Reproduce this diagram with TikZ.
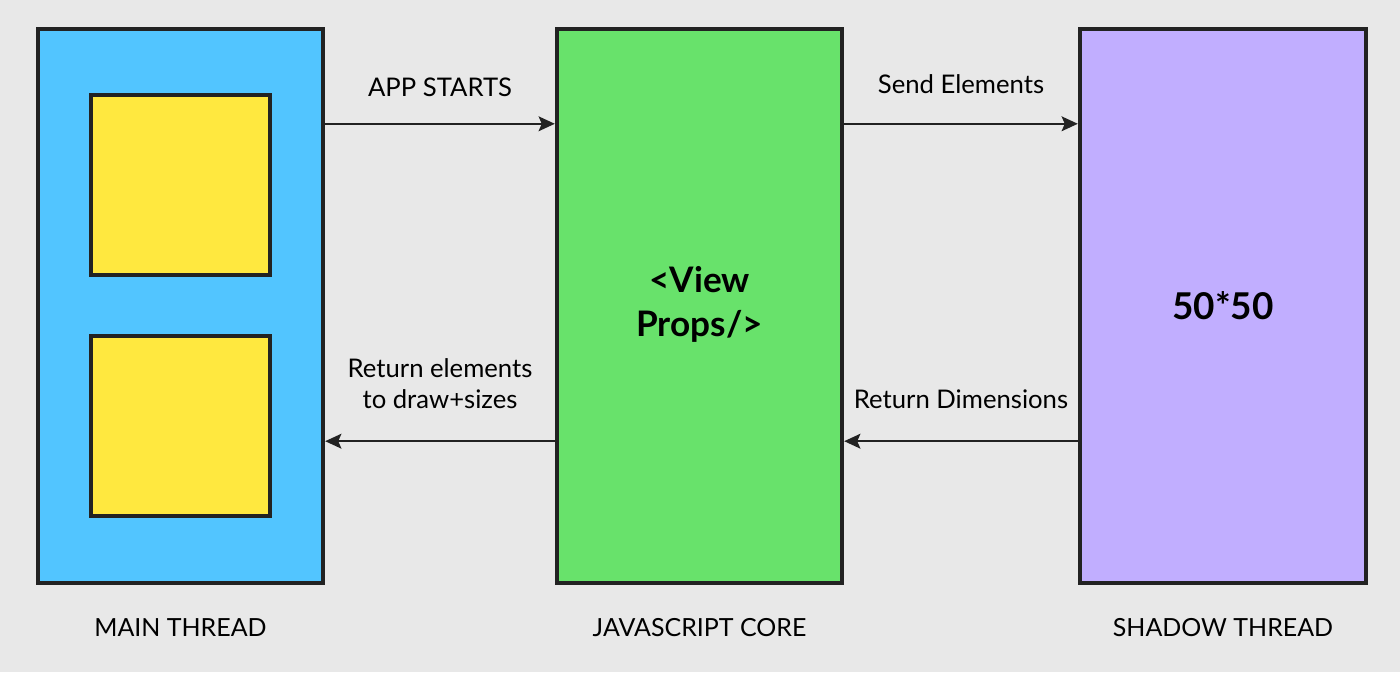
\documentclass[tikz,border=0pt]{standalone}
\usepackage{fontspec}
\setmainfont{Lato}
\usetikzlibrary{positioning, arrows.meta}
\definecolor{bgcol}{HTML}{E8E8E8}
\definecolor{maincol}{HTML}{52C5FF}
\definecolor{jscol}{HTML}{68E26B}
\definecolor{shadowcol}{HTML}{C1AEFF}
\definecolor{sqcol}{HTML}{FFE83F}
\definecolor{edgecol}{HTML}{222222}
\begin{document}
\begin{tikzpicture}[x=0.01cm, y=-0.01cm, >={Stealth[length=4.6pt, width=4.2pt, inset=0.9pt]},
    threadbox/.style={draw=edgecol, line width=1.2pt, minimum width=2.85cm, minimum height=5.54cm, inner sep=0pt},
    sqbox/.style={draw=edgecol, fill=sqcol, line width=1pt, minimum width=1.79cm, minimum height=1.8cm, inner sep=0pt},
    flow/.style={->, draw=edgecol, line width=0.6pt},
    lbl/.style={font=\fontsize{7.3}{8.8}\selectfont, text=black, align=center},
    threadname/.style={font=\fontsize{7.1}{8.6}\selectfont, text=black}]
    % Nền xám và khung bao
    \fill[bgcol] (0,0) rectangle (1400,672);
    \useasboundingbox (0,0) rectangle (1400,672);

    % Ba khối chính
    \node[threadbox, fill=maincol] (main) at (180.5,306) {};
    \node[threadbox, fill=jscol] (js) at (699.5,306)
        {\fontsize{10}{12.5}\selectfont\bfseries\begin{tabular}{c}<View\\Props/>\end{tabular}};
    \node[threadbox, fill=shadowcol, minimum width=2.86cm] (shadow) at (1223,306)
        {\fontsize{10.5}{12}\selectfont\bfseries 50*50};

    % Hai ô vàng trong main thread
    \node[sqbox] (sqa) at (180.5,185) {};
    \node[sqbox] (sqb) at (180.5,426) {};

    % Mũi tên đi và về
    \draw[flow] ([yshift=-0.97cm]main.north east) -- ([yshift=-0.97cm]js.north west)
        node[lbl, midway, above=0.14cm] {APP STARTS};
    \draw[flow] ([yshift=-0.97cm]js.north east) -- ([yshift=-0.97cm]shadow.north west)
        node[lbl, midway, above=0.17cm] {Send Elements};
    \draw[flow] ([yshift=1.44cm]js.south west) -- ([yshift=1.44cm]main.south east)
        node[lbl, midway, above=0.2cm] {Return elements\\to draw+sizes};
    \draw[flow] ([yshift=1.44cm]shadow.south west) -- ([yshift=1.44cm]js.south east)
        node[lbl, midway, above=0.2cm] {Return Dimensions};

    % Tên các luồng
    \node[threadname, below=0.21cm of main] (maincap) {MAIN THREAD};
    \node[threadname, below=0.21cm of js] (jscap) {JAVASCRIPT CORE};
    \node[threadname, below=0.21cm of shadow] (shadowcap) {SHADOW THREAD};
\end{tikzpicture}
\end{document}
